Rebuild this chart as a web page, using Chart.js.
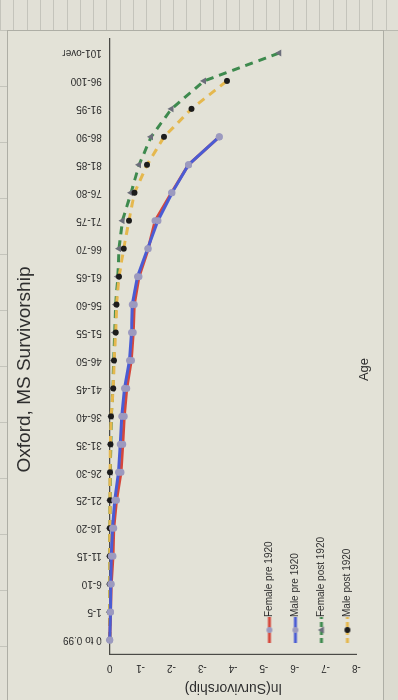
<!DOCTYPE html>
<html>
<head>
<meta charset="utf-8">
<script src="https://cdn.jsdelivr.net/npm/chart.js@4/dist/chart.umd.min.js"></script>
<style>
  html, body { margin: 0; padding: 0; }
  body { width: 398px; height: 700px; overflow: hidden; position: relative; background: #dcdbd0; }
  .sheet-top {
    position: absolute; left: 0; top: 0; width: 398px; height: 30px;
    background: repeating-linear-gradient(90deg, #c4c4bb 0 1px, transparent 1px 13.3px), #e1e0d6;
    border-bottom: 1px solid #b9b9b0;
  }
  .sheet-left {
    position: absolute; left: 0; top: 30px; width: 7px; height: 670px;
    background: repeating-linear-gradient(180deg, #c4c4bb 0 1px, transparent 1px 56px), #e1e0d6;
  }
  .frame {
    position: absolute; left: 7px; top: 30px; width: 375px; height: 700px;
    background: #e3e2d7; border: 1px solid #aeaea5;
  }
  /* the photo shows the sheet turned a quarter turn anticlockwise */
  #wrap {
    position: absolute; left: 0; top: 0; width: 700px; height: 398px;
    transform-origin: 0 0; transform: translateY(700px) rotate(-90deg);
  }
</style>
</head>
<body>
<div class="sheet-top"></div>
<div class="sheet-left"></div>
<div class="frame"></div>
<div id="wrap"><canvas id="chart" width="700" height="398"></canvas></div>
<script>
const ageGroups = ['0 to 0.99', '1-5', '6-10', '11-15', '16-20', '21-25', '26-30', '31-35', '36-40', '41-45',
  '46-50', '51-55', '56-60', '61-65', '66-70', '71-75', '76-80', '81-85', '86-90', '91-95', '96-100', '101-over']

const femalePre1920 = [0, -0.02, -0.05, -0.1, -0.13, -0.22, -0.36, -0.42, -0.47, -0.55, -0.7, -0.76, -0.79,
  -0.95, -1.25, -1.47, -2.0, -2.55, -3.55, null, null, null]
const malePre1920 = [0, -0.02, -0.03, -0.05, -0.09, -0.16, -0.28, -0.34, -0.39, -0.48, -0.64, -0.7, -0.73,
  -0.9, -1.23, -1.56, -2.02, -2.55, -3.55, null, null, null]
const femalePost1920 = [0, 0, 0, 0, 0, -0.01, -0.02, -0.03, -0.05, -0.1, -0.13, -0.16, -0.19,
  -0.26, -0.3, -0.41, -0.69, -0.95, -1.34, -2.0, -3.06, -5.5]
const malePost1920 = [0, 0, 0, 0, 0, -0.01, -0.01, -0.02, -0.04, -0.11, -0.14, -0.19, -0.22,
  -0.3, -0.45, -0.62, -0.8, -1.21, -1.76, -2.65, -3.8, null]

const yMin = -8
const yMax = 0

const COLORS = {
  red: '#d5473b',
  blue: '#4a5cd4',
  green: '#3e8a4e',
  yellow: '#e5b84e',
  preMarker: '#9c9abf',
  greenMarker: '#6c6e7b',
  yellowMarker: '#1c1c1c',
  text: '#2e2e2e',
  axis: '#4a4a46',
}
const FONT = "'Liberation Sans', Arial, sans-serif"

// small legend glyph: a line with the series marker in the middle
function legendIcon(color, dash, markerColor, shape) {
  const c = document.createElement('canvas')
  c.width = 26
  c.height = 10
  const g = c.getContext('2d')
  g.strokeStyle = color
  g.lineWidth = 3
  g.setLineDash(dash)
  g.beginPath(); g.moveTo(0, 5); g.lineTo(26, 5); g.stroke()
  g.fillStyle = markerColor
  g.beginPath()
  if (shape === 'triangle') { g.moveTo(13, 1.5); g.lineTo(16.5, 7.5); g.lineTo(9.5, 7.5); g.closePath() }
  else g.arc(13, 5, 3, 0, Math.PI * 2)
  g.fill()
  return c
}

const icons = [
  legendIcon(COLORS.red, [], COLORS.preMarker, 'circle'),
  legendIcon(COLORS.blue, [], COLORS.preMarker, 'circle'),
  legendIcon(COLORS.green, [5, 3], COLORS.greenMarker, 'triangle'),
  legendIcon(COLORS.yellow, [5, 3], COLORS.yellowMarker, 'circle'),
]

const legendNudge = {
  id: 'legendNudge',
  afterLayout(chart) {
    const lg = chart.legend
    const ca = chart.chartArea
    lg.left = ca.left
    lg.right = ca.right
    lg.top = ca.top + 12
    lg.bottom = ca.bottom + 12
  }
}

new Chart(document.getElementById('chart'), {
  type: 'line',
  data: {
    labels: ageGroups,
    datasets: [
      { label: 'Female pre 1920', data: femalePre1920, borderColor: COLORS.red, backgroundColor: COLORS.red,
        borderWidth: 3, pointRadius: 3.5, pointBackgroundColor: COLORS.preMarker, pointBorderWidth: 0, order: 2 },
      { label: 'Male pre 1920', data: malePre1920, borderColor: COLORS.blue, backgroundColor: COLORS.blue,
        borderWidth: 3, pointRadius: 3.5, pointBackgroundColor: COLORS.preMarker, pointBorderWidth: 0, order: 1 },
      { label: 'Female post 1920', data: femalePost1920, borderColor: COLORS.green, backgroundColor: COLORS.green,
        borderWidth: 3, borderDash: [8, 6], pointStyle: 'triangle', pointRadius: 4,
        pointBackgroundColor: COLORS.greenMarker, pointBorderWidth: 0, order: 4 },
      { label: 'Male post 1920', data: malePost1920, borderColor: COLORS.yellow, backgroundColor: COLORS.yellow,
        borderWidth: 3, borderDash: [8, 6], pointRadius: 3,
        pointBackgroundColor: COLORS.yellowMarker, pointBorderWidth: 0, order: 3 },
    ]
  },
  options: {
    responsive: false,
    animation: false,
    events: [],
    layout: { padding: { left: 0, right: 39, top: 0, bottom: 0 } },
    datasets: { line: { tension: 0, clip: false, spanGaps: false, fill: false } },
    scales: {
      x: {
        position: 'top',
        offset: true,
        grid: { display: false, drawTicks: false },
        border: { display: true, color: COLORS.axis, width: 1.2 },
        ticks: { autoSkip: false, minRotation: 90, maxRotation: 90, padding: 8, labelOffset: 12,
          color: COLORS.text, font: { family: FONT, size: 10 } },
        afterFit: s => { s.height = 71 },
      },
      y: {
        min: yMin,
        max: yMax,
        grid: { display: false, drawTicks: false },
        border: { display: true, color: COLORS.axis, width: 1.2 },
        ticks: { stepSize: 1, minRotation: 90, maxRotation: 90, crossAlign: 'center', padding: 9,
          color: COLORS.text, font: { family: FONT, size: 10 } },
        title: { display: true, text: 'ln(Survivorship)', color: COLORS.text, padding: { top: 4 },
          font: { family: FONT, size: 14 } },
        afterFit: s => { s.width = 46 },
      },
    },
    plugins: {
      title: { display: true, text: 'Oxford, MS Survivorship', color: COLORS.text,
        padding: { top: 13, bottom: 3 }, font: { family: FONT, size: 19, weight: 'normal' } },
      subtitle: { display: true, position: 'bottom', text: 'Age', color: COLORS.text,
        padding: { top: 0, bottom: 26 }, font: { family: FONT, size: 13 } },
      legend: {
        position: 'chartArea',
        align: 'end',
        labels: {
          usePointStyle: true,
          pointStyleWidth: 16,
          padding: 16,
          color: COLORS.text,
          font: { family: FONT, size: 10 },
          sort: (a, b) => a.datasetIndex - b.datasetIndex,
          generateLabels: chart => Chart.defaults.plugins.legend.labels.generateLabels(chart)
            .map(item => Object.assign(item, { pointStyle: icons[item.datasetIndex] })),
        }
      },
      tooltip: { enabled: false },
    }
  },
  plugins: [legendNudge]
})
</script>
</body>
</html>
